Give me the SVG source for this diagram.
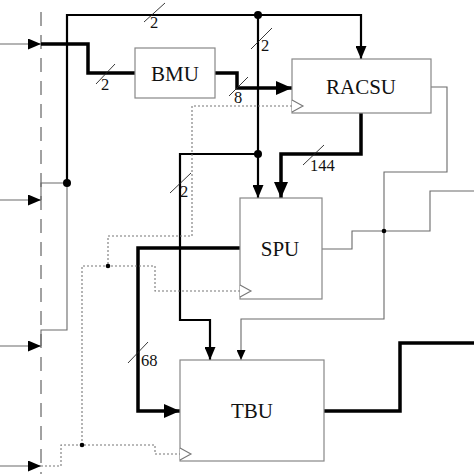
<svg xmlns="http://www.w3.org/2000/svg" width="474" height="474" viewBox="0 0 474 474">
<style>
.box{fill:#fff;stroke:#888;stroke-width:1.2}
.lbl{font-family:"Liberation Serif",serif;font-size:21px;fill:#111;text-anchor:middle}
.num{font-family:"Liberation Serif",serif;font-size:16.5px;fill:#111}
.thick{fill:none;stroke:#000;stroke-width:3.5}
.med{fill:none;stroke:#000;stroke-width:2.2}
.thin{fill:none;stroke:#6a6a6a;stroke-width:1.1}
.dot{fill:none;stroke:#777;stroke-width:1.1;stroke-dasharray:2 2}
.slash{stroke:#222;stroke-width:0.9}
.clk{fill:#fff;stroke:#777;stroke-width:1.1}
</style>
<defs>
<marker id="aL" markerUnits="userSpaceOnUse" viewBox="0 0 16 14" refX="16" refY="7" markerWidth="16" markerHeight="14" orient="auto"><path d="M0,0 L16,7 L0,14 Z" fill="#000"/></marker>
<marker id="aM" markerUnits="userSpaceOnUse" viewBox="0 0 13 11" refX="13" refY="5.5" markerWidth="13" markerHeight="11" orient="auto"><path d="M0,0 L13,5.5 L0,11 Z" fill="#000"/></marker>
<marker id="aS" markerUnits="userSpaceOnUse" viewBox="0 0 10 9" refX="10" refY="4.5" markerWidth="10" markerHeight="9" orient="auto"><path d="M0,0 L10,4.5 L0,9 Z" fill="#000"/></marker>
</defs>
<rect width="474" height="474" fill="#fff"/>
<g id="connectors">
<line x1="41" y1="12" x2="41" y2="474" stroke="#444" stroke-width="1" stroke-dasharray="14 9"/>
<!-- inputs -->
<line class="thin" x1="0" y1="44" x2="41" y2="44" marker-end="url(#aM)"/>
<line class="thin" x1="0" y1="200" x2="41" y2="200" marker-end="url(#aM)"/>
<line class="thin" x1="0" y1="346" x2="41" y2="346" marker-end="url(#aM)"/>
<line class="thin" x1="0" y1="466" x2="41" y2="466" marker-end="url(#aM)"/>
<polyline class="thin" points="41,200 41,183 67,183"/>
<polyline class="thin" points="67,183 67,330 41,330 41,346"/>
<!-- BMU input -->
<polyline class="thick" points="41,44 88,44 88,73 135,73"/>
<!-- top bus -->
<polyline class="med" points="67,183 67,15 361,15 361,59" marker-end="url(#aM)"/>
<polyline class="med" points="258,15 258,198" marker-end="url(#aM)"/>
<polyline class="med" points="258,154 180,154 180,320 210,320 210,360" marker-end="url(#aM)"/>
<!-- BMU to RACSU -->
<polyline class="thick" points="215,73 237,73 237,88 292,88" marker-end="url(#aL)"/>
<!-- RACSU to SPU -->
<polyline class="thick" points="361,113 361,154 281,154 281,198" marker-end="url(#aL)"/>
<!-- SPU to TBU -->
<polyline class="thick" points="240,248 138,248 138,411 180,411" marker-end="url(#aL)"/>
<!-- TBU output -->
<polyline class="thick" points="324,411 400,411 400,343 474,343"/>
<!-- right feedback -->
<polyline class="thin" points="431,87 447,87 447,172 384,172 384,319 241,319 241,360" marker-end="url(#aS)"/>
<polyline class="thin" points="322,249 352,249 352,231 430,231 430,191 474,191"/>
<!-- clock dotted -->
<polyline class="dot" points="292,106 192,106 192,236 108,236 108,266"/>
<polyline class="dot" points="82,445 82,266 155,266 155,291 240,291"/>
<polyline class="dot" points="41,466 61,466 61,445 155,445 155,454 180,454"/>
<circle cx="67" cy="183" r="4" fill="#000"/>
<circle cx="258" cy="15" r="4" fill="#000"/>
<circle cx="258" cy="154" r="4" fill="#000"/>
<circle cx="108" cy="266" r="2.3" fill="#000"/>
<circle cx="82" cy="445" r="2.3" fill="#000"/>
<circle cx="384" cy="231" r="2.3" fill="#000"/>
<!-- bus width labels -->
<line class="slash" x1="144" y1="22" x2="165" y2="3"/><text class="num" x="150" y="28">2</text>
<line class="slash" x1="96" y1="84" x2="115" y2="64"/><text class="num" x="101" y="90">2</text>
<line class="slash" x1="229" y1="96" x2="248" y2="77"/><text class="num" x="234" y="103">8</text>
<line class="slash" x1="251" y1="49" x2="272" y2="28"/><text class="num" x="261" y="51">2</text>
<line class="slash" x1="303" y1="165" x2="324" y2="145"/><text class="num" x="310" y="171">144</text>
<line class="slash" x1="170" y1="193" x2="191" y2="173"/><text class="num" x="180" y="197">2</text>
<line class="slash" x1="128" y1="363" x2="148" y2="342"/><text class="num" x="141" y="366">68</text>
</g>
<g id="BMU"><rect class="box" x="135" y="48" width="80" height="50"/><text class="lbl" x="175" y="81">BMU</text></g>
<g id="RACSU"><rect class="box" x="292" y="59" width="139" height="54"/><polyline class="clk" points="292,100 303,106 292,112"/><text class="lbl" x="361" y="94">RACSU</text></g>
<g id="SPU"><rect class="box" x="240" y="198" width="82" height="101"/><polyline class="clk" points="240,285 251,291 240,297"/><text class="lbl" x="280" y="256">SPU</text></g>
<g id="TBU"><rect class="box" x="180" y="360" width="144" height="101"/><polyline class="clk" points="180,448 191,454 180,460"/><text class="lbl" x="252" y="418">TBU</text></g>
</svg>
